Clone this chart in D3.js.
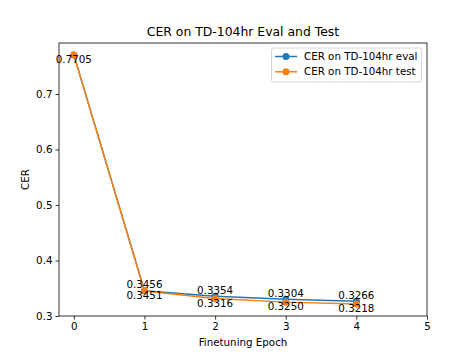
<!DOCTYPE html>
<html><head><meta charset="utf-8">
<script src="https://cdn.jsdelivr.net/npm/d3@7"></script>
<style>body{margin:0;background:#fff}svg{display:block}text{font-family:"DejaVu Sans",sans-serif;fill:#000}</style>
</head><body>
<svg id="c" width="474" height="355"></svg>
<script>
const epochs = [0, 1, 2, 3, 4];
const evalCER = [0.7705, 0.3456, 0.3354, 0.3304, 0.3266];
const testCER = [0.7705, 0.3451, 0.3316, 0.3250, 0.3218];
const xTicks = [0, 1, 2, 3, 4, 5];
const yTicks = [0.3, 0.4, 0.5, 0.6, 0.7];
const seriesNames = ["CER on TD-104hr eval", "CER on TD-104hr test"];
const colors = ["#1f77b4", "#ff7f0e"];

const FS = "10.3px";
const svg = d3.select("#c");
const L = 59, R = 427, T = 43, B = 316;
const x = d3.scaleLinear().domain([-0.21, 5]).range([L, R]);
const y = d3.scaleLinear().domain([0.3, 0.7919]).range([B, T]);

const xa = svg.append("g").attr("transform", `translate(0,${B})`)
  .call(d3.axisBottom(x).tickValues(xTicks).tickFormat(d3.format("d")).tickSize(3.5).tickPadding(3));
const ya = svg.append("g").attr("transform", `translate(${L},0)`)
  .call(d3.axisLeft(y).tickValues(yTicks).tickFormat(d => d3.format(".1f")(d)).tickSize(3.5).tickPadding(3));
[xa, ya].forEach(a => {
  a.select(".domain").remove();
  a.selectAll("text").style("font-size", FS).style("font-family", "DejaVu Sans");
  a.selectAll("line").attr("stroke", "#000").attr("stroke-width", 0.8);
});

const line = d3.line().x((d, i) => x(epochs[i])).y(d => y(d));
const data = [evalCER, testCER];
data.forEach((s, k) => {
  svg.append("path").datum(s).attr("d", line).attr("fill", "none")
    .attr("stroke", colors[k]).attr("stroke-width", 1.5);
  svg.selectAll(null).data(s).enter().append("circle")
    .attr("cx", (d, i) => x(epochs[i])).attr("cy", d => y(d)).attr("r", 3.5)
    .attr("fill", colors[k]);
});
evalCER.forEach((v, i) => {
  if (i === 0) return;
  svg.append("text").attr("x", x(epochs[i])).attr("y", y(v) - 6).attr("dy", "0.35em")
    .attr("text-anchor", "middle").style("font-size", FS).text(v.toFixed(4));
});
testCER.forEach((v, i) => {
  svg.append("text").attr("x", x(epochs[i])).attr("y", y(v) + 4.5).attr("dy", "0.35em")
    .attr("text-anchor", "middle").style("font-size", FS).text(v.toFixed(4));
});

svg.append("rect").attr("x", L).attr("y", T).attr("width", R - L).attr("height", B - T)
  .attr("fill", "none").attr("stroke", "#000").attr("stroke-width", 0.8);

svg.append("text").attr("x", (L + R) / 2).attr("y", 36).attr("text-anchor", "middle")
  .style("font-size", "12.4px").text("CER on TD-104hr Eval and Test");
svg.append("text").attr("x", (L + R) / 2).attr("y", 346).attr("text-anchor", "middle")
  .style("font-size", FS).text("Finetuning Epoch");
svg.append("text").attr("transform", `translate(29,${(T + B) / 2}) rotate(-90)`).attr("text-anchor", "middle")
  .style("font-size", FS).text("CER");

const lg = svg.append("g");
lg.append("rect").attr("x", 271.5).attr("y", 48).attr("width", 150).attr("height", 34).attr("rx", 2)
  .attr("fill", "#fff").attr("fill-opacity", 0.8).attr("stroke", "#ccc").attr("stroke-width", 0.8);
seriesNames.forEach((n, k) => {
  const yy = 56.5 + k * 15.3;
  lg.append("line").attr("x1", 275).attr("x2", 297).attr("y1", yy).attr("y2", yy)
    .attr("stroke", colors[k]).attr("stroke-width", 1.5);
  lg.append("circle").attr("cx", 286).attr("cy", yy).attr("r", 3.5).attr("fill", colors[k]);
  lg.append("text").attr("x", 304).attr("y", yy).attr("dy", "0.35em").style("font-size", FS).text(n);
});
</script>
</body></html>
